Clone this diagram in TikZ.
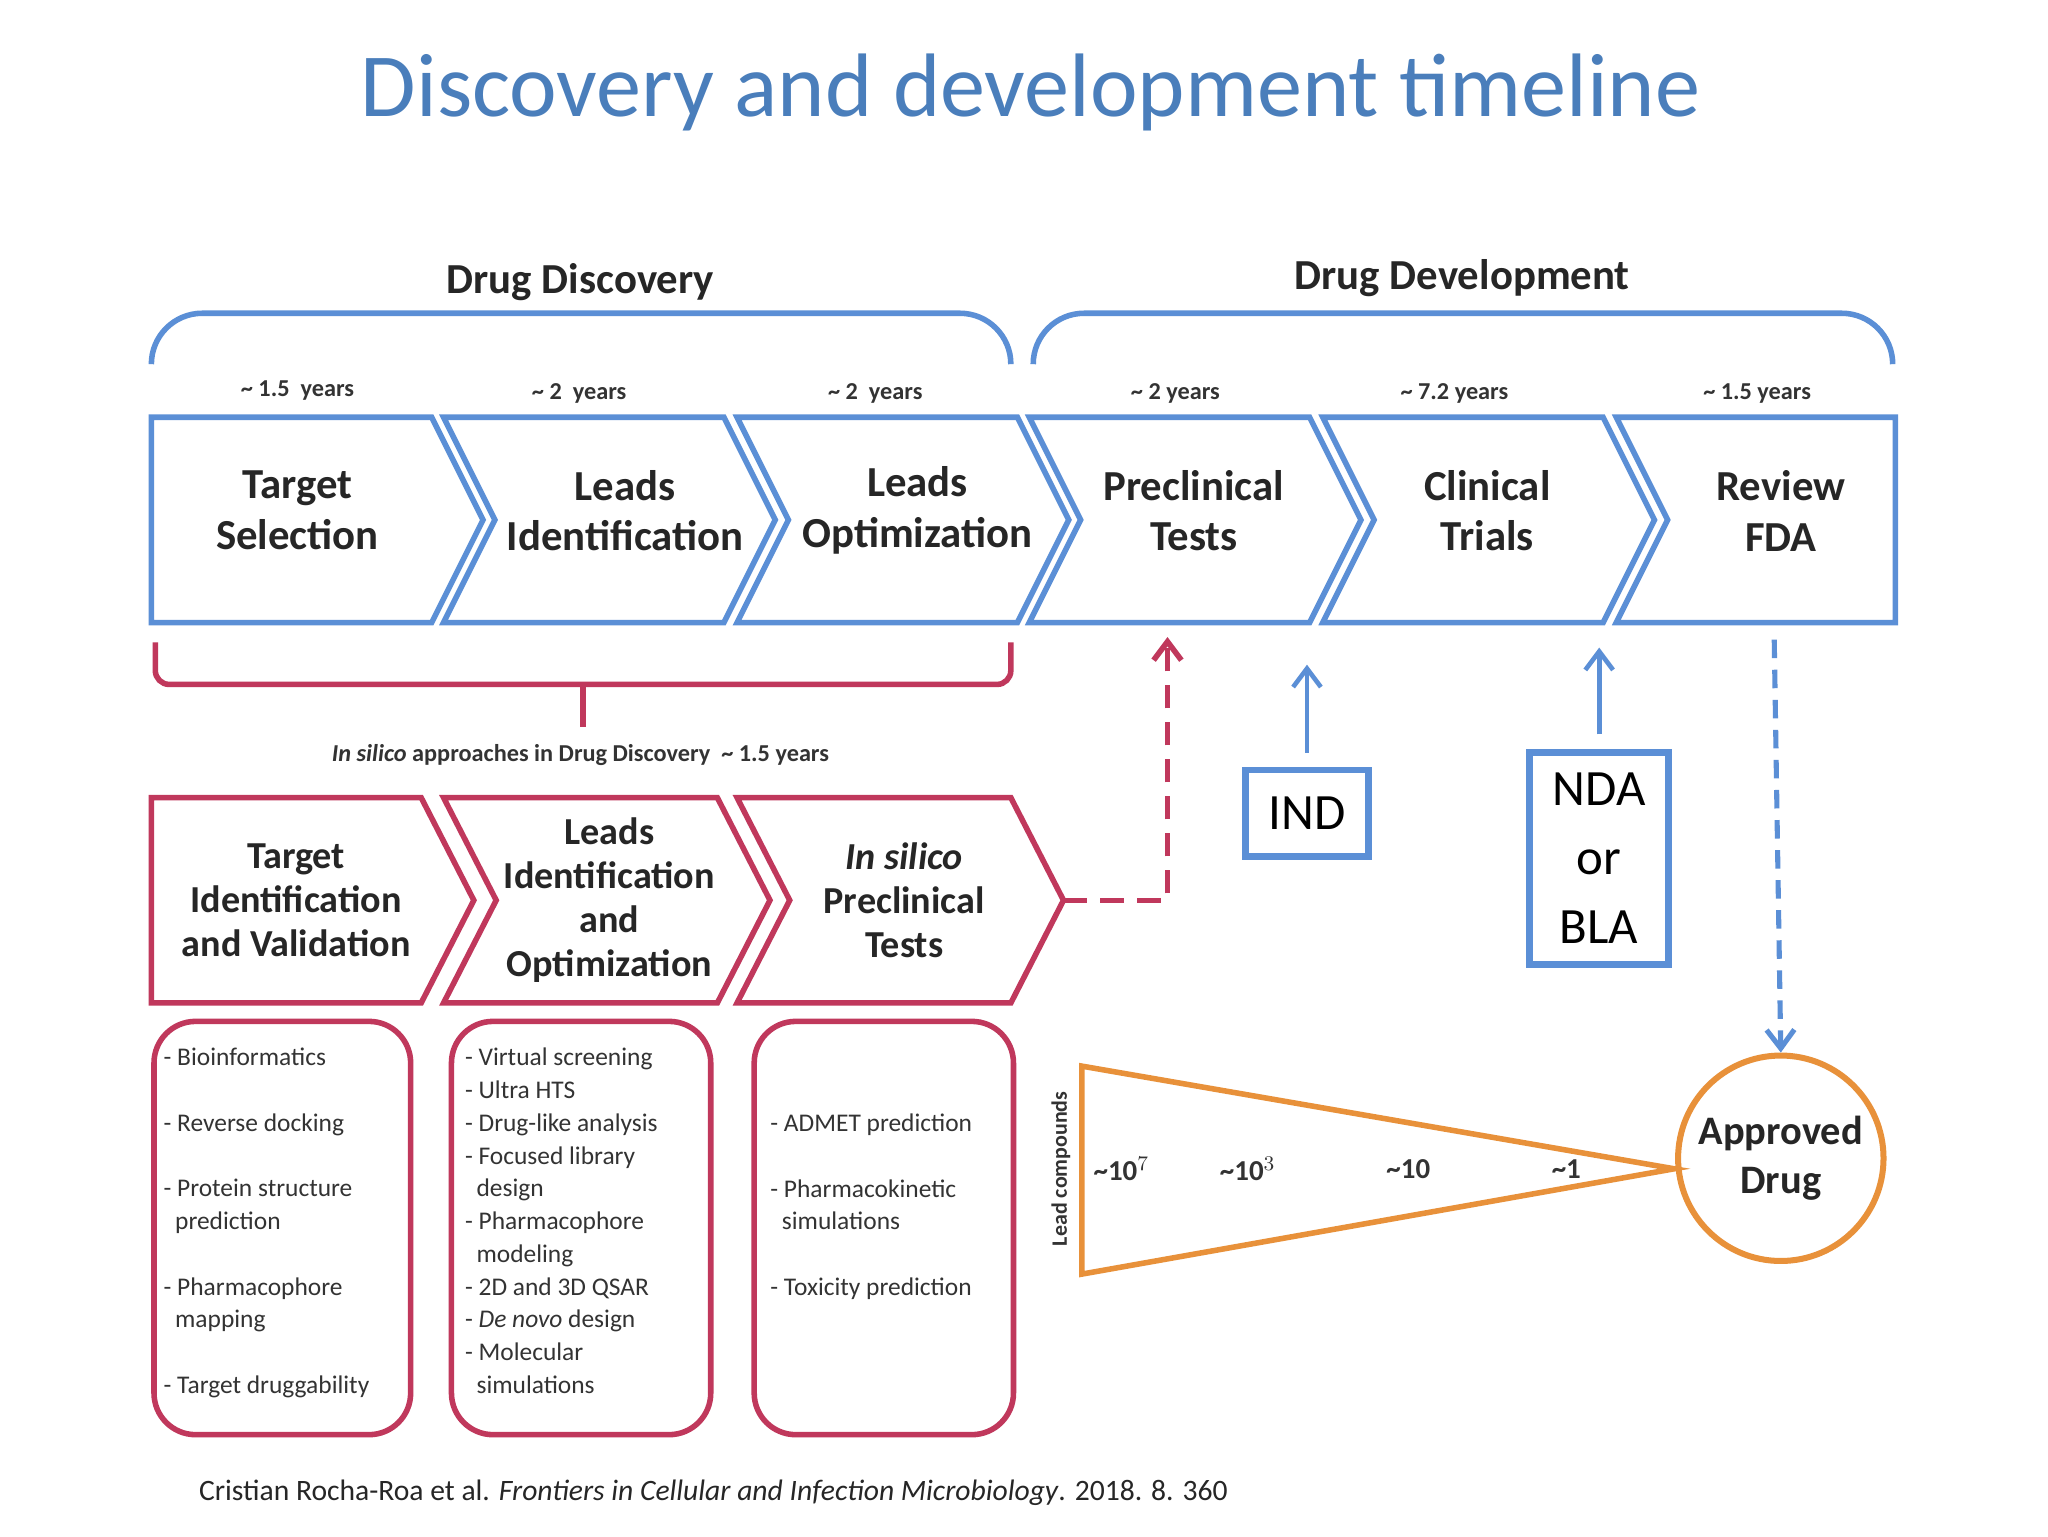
\documentclass[tikz,border=0pt]{standalone}
\usepackage{fontspec}
\setmainfont{Carlito}
\usetikzlibrary{arrows.meta}
\definecolor{tblue}{HTML}{4A7EBB}
\definecolor{cblue}{HTML}{5B8FD6}
\definecolor{cred}{HTML}{C0385C}
\definecolor{corange}{HTML}{E8913A}
\definecolor{tgray}{HTML}{333333}
\tikzset{
 bchev/.style={draw=cblue,line width=2.4pt,line join=miter},
 rchev/.style={draw=cred,line width=2.4pt,line join=miter},
 ctext/.style={font=\fontsize{18.5}{22}\selectfont\bfseries,align=center,text=black!85},
 rtext/.style={font=\fontsize{16.5}{19}\selectfont\bfseries,align=center,text=black!85},
 yr/.style={font=\fontsize{10.5}{12}\selectfont\bfseries,text=tgray},
 lst/.style={font=\fontsize{11}{14.17}\selectfont,align=left,text=tgray,anchor=north west,inner sep=0pt},
 lbox/.style={draw=cred,line width=2.4pt,rounded corners=18pt},
 sbox/.style={draw=cblue,line width=3pt,font=\fontsize{22}{28}\selectfont,align=center,inner sep=0pt},
}
\begin{document}
\begin{tikzpicture}[x=0.02cm,y=-0.02cm]
\useasboundingbox[fill=white] (0,0) rectangle (1556,1167);
\node[text=tblue,font=\fontsize{39}{46}\selectfont] (title) at (783,70) {Discovery and development timeline};
\node[font=\fontsize{18.5}{22}\selectfont\bfseries,text=black!85] (dd) at (441,214) {Drug Discovery};
\node[font=\fontsize{18.5}{22}\selectfont\bfseries,text=black!85] (dv) at (1111,211) {Drug Development};
% braces
\draw[cblue,line width=2.4pt,rounded corners=22pt] (115,276) -- (115,238) -- (768,238) -- (768,276);
\draw[cblue,line width=2.4pt,rounded corners=22pt] (785,276) -- (785,238) -- (1438,238) -- (1438,276);
% years
\node[yr] (y1) at (226,297) {\textasciitilde\ 1.5\ \ years};
\node[yr] (y2) at (440,299) {\textasciitilde\ 2\ \ years};
\node[yr] (y3) at (665,299) {\textasciitilde\ 2\ \ years};
\node[yr] (y4) at (893,299) {\textasciitilde\ 2 years};
\node[yr] (y5) at (1105,299) {\textasciitilde\ 7.2 years};
\node[yr] (y6) at (1335,299) {\textasciitilde\ 1.5 years};
% blue chevrons
\draw[bchev] (115,317) -- (328,317) -- (367,395) -- (328,473) -- (115,473) -- cycle;
\draw[bchev] (337,317) -- (550,317) -- (589,395) -- (550,473) -- (337,473) -- (376,395) -- cycle;
\draw[bchev] (560,317) -- (773,317) -- (812,395) -- (773,473) -- (560,473) -- (599,395) -- cycle;
\draw[bchev] (782,317) -- (995,317) -- (1034,395) -- (995,473) -- (782,473) -- (821,395) -- cycle;
\draw[bchev] (1005,317) -- (1218,317) -- (1257,395) -- (1218,473) -- (1005,473) -- (1044,395) -- cycle;
\draw[bchev] (1228,317) -- (1440,317) -- (1440,473) -- (1228,473) -- (1267,395) -- cycle;
\node[ctext] (c1) at (226,388) {Target\\Selection};
\node[ctext] (c2) at (475,388) {Leads\\Identification};
\node[ctext] (c3) at (697,388) {Leads\\Optimization};
\node[ctext] (c4) at (907,388) {Preclinical\\Tests};
\node[ctext] (c5) at (1130,388) {Clinical\\Trials};
\node[ctext] (c6) at (1353,388) {Review\\FDA};
% red brace
\draw[cred,line width=2.4pt,rounded corners=6pt] (118,488) -- (118,520) -- (768,520) -- (768,488);
\draw[cred,line width=2.4pt] (443,520) -- (443,552);
\node[yr] (ins) at (441,574) {\textit{In silico} approaches in Drug Discovery\ \ \textasciitilde\ 1.5 years};
% red chevrons
\draw[rchev] (115,606) -- (320,606) -- (360,684) -- (320,762) -- (115,762) -- cycle;
\draw[rchev] (337,606) -- (545,606) -- (585,684) -- (545,762) -- (337,762) -- (377,684) -- cycle;
\draw[rchev] (560,606) -- (768,606) -- (808,684) -- (768,762) -- (560,762) -- (600,684) -- cycle;
\coordinate (rp) at (808,684);
\node[rtext] (r1) at (225,684) {Target\\Identification\\and Validation};
\node[rtext] (r2) at (463,684) {Leads\\Identification\\and\\Optimization};
\node[rtext] (r3) at (687,684) {\textit{In silico}\\Preclinical\\Tests};
% list boxes
\draw[lbox] (117,776) rectangle (312,1090);
\draw[lbox] (343,776) rectangle (540,1090);
\draw[lbox] (573,776) rectangle (770,1090);
\node[lst] (l1) at (124,796) {- Bioinformatics\\[\baselineskip]- Reverse docking\\[\baselineskip]- Protein structure\\\ \ prediction\\[\baselineskip]- Pharmacophore\\\ \ mapping\\[\baselineskip]- Target druggability};
\node[lst] (l2) at (353,796) {- Virtual screening\\- Ultra HTS\\- Drug-like analysis\\- Focused library\\\ \ design\\- Pharmacophore\\\ \ modeling\\- 2D and 3D QSAR\\- \textit{De novo} design\\- Molecular\\\ \ simulations};
\node[lst] (l3) at (585,846) {- ADMET prediction\\[\baselineskip]- Pharmacokinetic\\\ \ simulations\\[\baselineskip]- Toxicity prediction};
% red dashed connector
\coordinate (pt) at (887,484);
\draw[cred,line width=2.4pt,dash pattern=on 10pt off 6pt,-{Straight Barb[length=8pt,width=12pt]}] (rp) -- (887,684) -- (pt);
% IND, NDA
\node[sbox,minimum width=1.88cm,minimum height=1.32cm] (ind) at (993,618) {IND};
\node[sbox,minimum width=2.12cm,minimum height=3.22cm] (nda) at (1215,652) {NDA\\[2pt]or\\[2pt]BLA};
\draw[cblue,line width=2pt,-{Straight Barb[length=8pt,width=12pt]}] (993,572) -- (993,505);
\draw[cblue,line width=2pt,-{Straight Barb[length=8pt,width=12pt]}] (1215,558) -- (1215,492);
% approved drug
\node[circle,draw=corange,line width=2.6pt,minimum size=2.88cm,align=center,text=black!85,font=\fontsize{17.5}{21}\selectfont\bfseries] (ap) at (1353,880) {Approved\\Drug};
\draw[cblue,line width=2.2pt,dash pattern=on 8pt off 5pt,-{Straight Barb[length=8pt,width=12pt]}] (1348,486) -- (ap.north);
% triangle
\draw[corange,line width=2.4pt,line join=miter] (822,810) -- (822,968) -- (1272,888) -- cycle;
\node[yr,font=\fontsize{9.5}{11}\selectfont\bfseries,rotate=90] (lc) at (806,888) {Lead compounds};
\node[font=\fontsize{12.5}{15}\selectfont\bfseries,text=tgray] (t1) at (852,888) {\textasciitilde10$^7$};
\node[font=\fontsize{12.5}{15}\selectfont\bfseries,text=tgray] (t2) at (948,888) {\textasciitilde10$^3$};
\node[font=\fontsize{12.5}{15}\selectfont\bfseries,text=tgray] (t3) at (1070,888) {\textasciitilde10};
\node[font=\fontsize{12.5}{15}\selectfont\bfseries,text=tgray] (t4) at (1190,888) {\textasciitilde1};
% citation
\node[anchor=west,font=\fontsize{12.8}{15}\selectfont,text=black!85] (cit) at (145,1134) {Cristian Rocha-Roa et al. \textit{Frontiers in Cellular and Infection Microbiology}. 2018. 8. 360};
\end{tikzpicture}
\end{document}
